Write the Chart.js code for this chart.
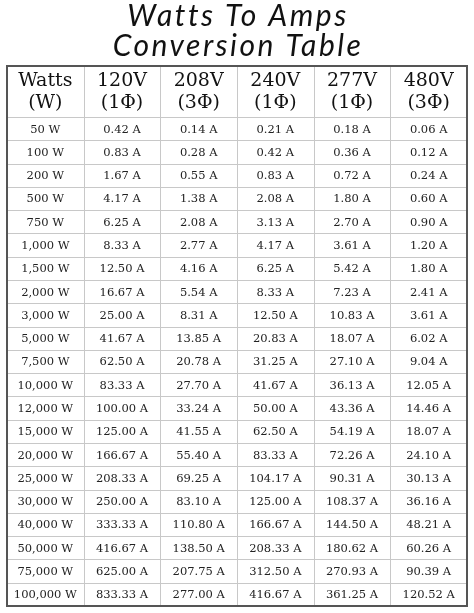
<!DOCTYPE html>
<html><head><meta charset="utf-8">
<script src="https://cdn.jsdelivr.net/npm/chart.js@4"></script>
<style>html,body{margin:0;background:#fff}#c{display:block}</style>
</head><body>
<div style="width:474px;height:613px"><canvas id="c"></canvas></div>
<script>
const watts = [50,100,200,500,750,1000,1500,2000,3000,5000,7500,10000,12000,15000,20000,25000,30000,40000,50000,75000,100000];
const headers = [["Watts","(W)"],["120V","(1Φ)"],["208V","(3Φ)"],["240V","(1Φ)"],["277V","(1Φ)"],["480V","(3Φ)"]];
const amps120 = [0.42,0.83,1.67,4.17,6.25,8.33,12.50,16.67,25.00,41.67,62.50,83.33,100.00,125.00,166.67,208.33,250.00,333.33,416.67,625.00,833.33];
const amps208 = [0.14,0.28,0.55,1.38,2.08,2.77,4.16,5.54,8.31,13.85,20.78,27.70,33.24,41.55,55.40,69.25,83.10,110.80,138.50,207.75,277.00];
const amps240 = [0.21,0.42,0.83,2.08,3.13,4.17,6.25,8.33,12.50,20.83,31.25,41.67,50.00,62.50,83.33,104.17,125.00,166.67,208.33,312.50,416.67];
const amps277 = [0.18,0.36,0.72,1.80,2.70,3.61,5.42,7.23,10.83,18.07,27.10,36.13,43.36,54.19,72.26,90.31,108.37,144.50,180.62,270.93,361.25];
const amps480 = [0.06,0.12,0.24,0.60,0.90,1.20,1.80,2.41,3.61,6.02,9.04,12.05,14.46,18.07,24.10,30.13,36.16,48.21,60.26,90.39,120.52];
const HEAD = 2.19; // header row height in row units

const series = [amps120, amps208, amps240, amps277, amps480];
const rows = watts.map((w, i) => [w.toLocaleString('en-US') + " W"].concat(series.map(s => s[i].toFixed(2) + " A")));

// one invisible point per cell, placed through the scales
const pts = [];
rows.forEach((r, i) => r.forEach((t, j) => pts.push({x: j + 0.5, y: HEAD + i + 0.5, t})));

const tablePlugin = {
  id: 'table',
  afterDatasetsDraw(chart) {
    const {ctx, scales: {x, y}} = chart;
    const nRows = watts.length;
    const L = x.getPixelForValue(0), R = x.getPixelForValue(6);
    const T = y.getPixelForValue(0), B = y.getPixelForValue(HEAD + nRows);
    ctx.save();
    // title
    ctx.fillStyle = '#111';
    ctx.textAlign = 'center';
    ctx.textBaseline = 'middle';
    ctx.font = 'italic 30px Lato';
    ctx.letterSpacing = '2.5px';
    ctx.fillText('Watts To Amps', 238, 16);
    ctx.fillText('Conversion Table', 238, 46);
    ctx.letterSpacing = '0px';
    // grid
    ctx.strokeStyle = '#c8c8c8';
    ctx.lineWidth = 1;
    for (let i = 0; i < nRows; i++) {
      const py = Math.round(y.getPixelForValue(HEAD + i)) + 0.5;
      ctx.beginPath(); ctx.moveTo(L, py); ctx.lineTo(R, py); ctx.stroke();
    }
    for (let j = 1; j < 6; j++) {
      const px = Math.round(x.getPixelForValue(j)) + 0.5;
      ctx.beginPath(); ctx.moveTo(px, T); ctx.lineTo(px, B); ctx.stroke();
    }
    ctx.strokeStyle = '#555';
    ctx.lineWidth = 2;
    ctx.strokeRect(L, T, R - L, B - T);
    // header
    ctx.fillStyle = '#111';
    ctx.font = '19px "DejaVu Serif"';
    headers.forEach((h, j) => {
      const px = x.getPixelForValue(j + 0.5);
      ctx.fillText(h[0], px, y.getPixelForValue(HEAD * 0.3));
      ctx.fillText(h[1], px, y.getPixelForValue(HEAD * 0.72));
    });
    // cells
    ctx.font = '11.5px "DejaVu Serif"';
    ctx.fillStyle = '#222';
    chart.data.datasets[0].data.forEach(p => {
      ctx.fillText(p.t, x.getPixelForValue(p.x), y.getPixelForValue(p.y) + 1);
    });
    ctx.restore();
  }
};

new Chart(document.getElementById('c'), {
  type: 'scatter',
  data: { datasets: [{ data: pts, pointRadius: 0, pointHoverRadius: 0 }] },
  options: {
    responsive: true, maintainAspectRatio: false, animation: false,
    layout: { padding: { left: 7, right: 7, top: 66, bottom: 7 } },
    plugins: { legend: { display: false }, tooltip: { enabled: false } },
    scales: {
      x: { type: 'linear', min: 0, max: 6, display: false },
      y: { type: 'linear', min: 0, max: HEAD + watts.length, reverse: true, display: false }
    }
  },
  plugins: [tablePlugin]
});
</script>
</body></html>
